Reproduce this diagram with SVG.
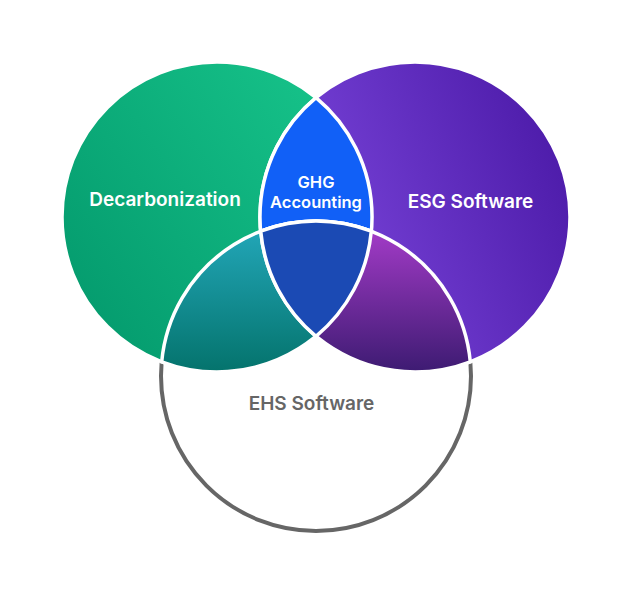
<svg xmlns="http://www.w3.org/2000/svg" width="632" height="593" viewBox="0 0 632 593">
<defs>
<linearGradient id="gGreen" x1="0" y1="1" x2="1" y2="0.3">
<stop offset="0" stop-color="#02966A"/>
<stop offset="1" stop-color="#16C289"/>
</linearGradient>
<linearGradient id="gPurple" x1="0" y1="0.4" x2="1" y2="0">
<stop offset="0" stop-color="#7C47DD"/>
<stop offset="1" stop-color="#4716A3"/>
</linearGradient>
<linearGradient id="gTeal" x1="0" y1="0" x2="0" y2="1">
<stop offset="0" stop-color="#24A9BC"/>
<stop offset="1" stop-color="#04736C"/>
</linearGradient>
<linearGradient id="gMag" x1="0" y1="0" x2="0" y2="1">
<stop offset="0" stop-color="#A93DCC"/>
<stop offset="1" stop-color="#3D1B72"/>
</linearGradient>
<style>
.w{stroke:#fff;stroke-width:3.5}
.lbl{font-family:Inter,"Noto Sans","Liberation Sans",sans-serif;font-weight:600;text-anchor:middle}
.wt{fill:#fff}
</style>
</defs>
<g id="ehs">
<circle cx="316" cy="376" r="155" fill="#fff" stroke="#666" stroke-width="4"/>
</g>
<g id="decarbonization">
<circle class="w" cx="217" cy="217" r="155" fill="url(#gGreen)"/>
</g>
<g id="esg">
<circle class="w" cx="415" cy="217" r="155" fill="url(#gPurple)"/>
</g>
<g id="ghg">
<path class="w" fill="#1160F7" d="M316 97.7A155 155 0 0 1 316 336.3A155 155 0 0 1 316 97.7Z"/>
</g>
<g id="decarb-ehs">
<path class="w" fill="url(#gTeal)" d="M161.7 361.8A155 155 0 0 1 371.3 231.2A155 155 0 0 1 161.7 361.8Z"/>
</g>
<g id="esg-ehs">
<path class="w" fill="url(#gMag)" d="M260.7 231.2A155 155 0 0 1 470.3 361.8A155 155 0 0 1 260.7 231.2Z"/>
</g>
<g id="center">
<path class="w" fill="#1B4AB4" d="M260.7 231.2A155 155 0 0 1 371.3 231.2A155 155 0 0 1 316 336.3A155 155 0 0 1 260.7 231.2Z"/>
</g>
<g id="connectors"></g>
<g id="labels">
<text class="lbl wt" x="165" y="206" font-size="19">Decarbonization</text>
<text class="lbl wt" x="470.5" y="208" font-size="19">ESG Software</text>
<text class="lbl wt" x="316" y="188" font-size="16.5">GHG</text>
<text class="lbl wt" x="316" y="208" font-size="16.5">Accounting</text>
<text class="lbl" x="311.5" y="410" font-size="19" fill="#666">EHS Software</text>
</g>
</svg>
